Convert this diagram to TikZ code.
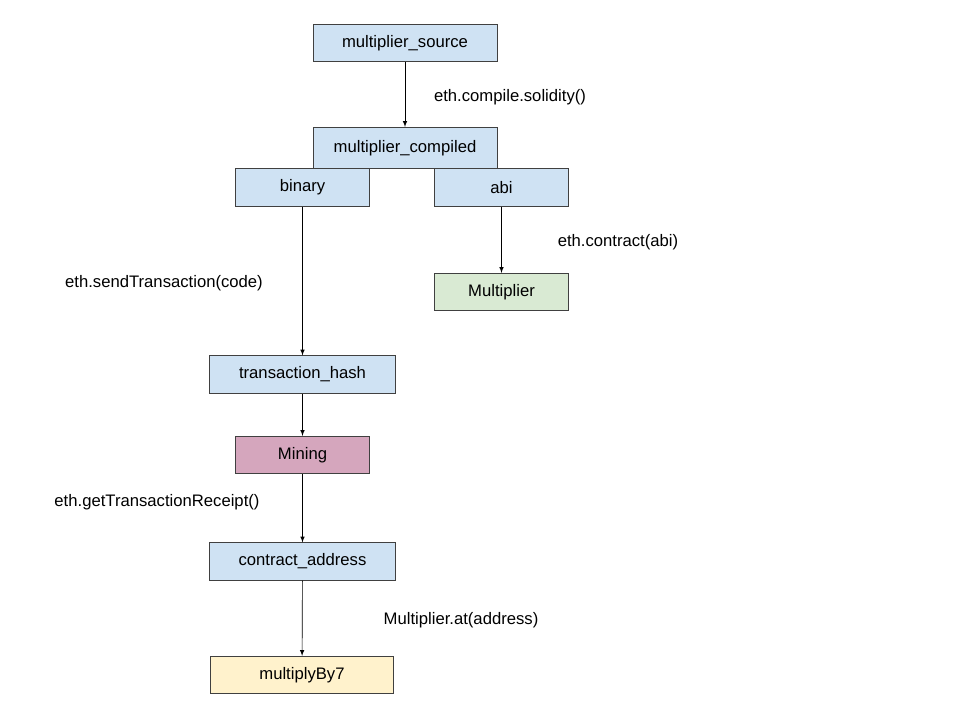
\documentclass[tikz,border=0pt]{standalone}
\usepackage{fontspec}
\setmainfont{Liberation Sans}
\definecolor{bl}{HTML}{CFE2F3}
\definecolor{gr}{HTML}{D9EAD3}
\definecolor{pk}{HTML}{D5A6BD}
\definecolor{yl}{HTML}{FFF2CC}
\begin{document}
\begin{tikzpicture}[x=0.75pt,y=-0.75pt]
\tikzset{box/.style={draw=black!75,line width=0.6pt,minimum height=28pt,inner sep=0pt,font=\fontsize{12.5}{14}\selectfont},
 lbl/.style={font=\fontsize{12.5}{14}\selectfont},
 arr/.style={-latex,line width=0.5pt}}
\useasboundingbox[fill=white] (0,0) rectangle (960,720);
\node[box,fill=bl,minimum width=138pt] (src) at (405,43) {multiplier\_source};
\node[box,fill=bl,minimum width=138pt,minimum height=31pt] (comp) at (405,148) {multiplier\_compiled};
\node[box,fill=bl,minimum width=100pt] (bin) at (302.5,187.5) {binary};
\node[box,fill=bl,minimum width=100pt] (abi) at (501.5,187.5) {abi};
\node[box,fill=gr,minimum width=100pt] (mul) at (501.5,292) {Multiplier};
\node[box,fill=bl,minimum width=139pt] (tx) at (302.5,374.5) {transaction\_hash};
\node[box,fill=pk,minimum width=100pt] (min) at (302.5,455) {Mining};
\node[box,fill=bl,minimum width=139pt] (ca) at (302.5,561.5) {contract\_address};
\node[box,fill=yl,minimum width=137pt] (m7) at (302,675) {multiplyBy7};
\draw[arr] (src) -- (comp);
\draw[arr] (abi) -- (mul);
\draw[arr] (bin) -- (tx);
\draw[arr] (tx) -- (min);
\draw[arr] (min) -- (ca);
\draw[arr] (ca) -- (m7);
\node[lbl] (l1) at (510,97) {eth.compile.solidity()};
\node[lbl] (l2) at (618,242) {eth.contract(abi)};
\node[lbl] (l3) at (164,283) {eth.sendTransaction(code)};
\node[lbl] (l4) at (157,502) {eth.getTransactionReceipt()};
\node[lbl] (l5) at (461,620) {Multiplier.at(address)};
\end{tikzpicture}
\end{document}
